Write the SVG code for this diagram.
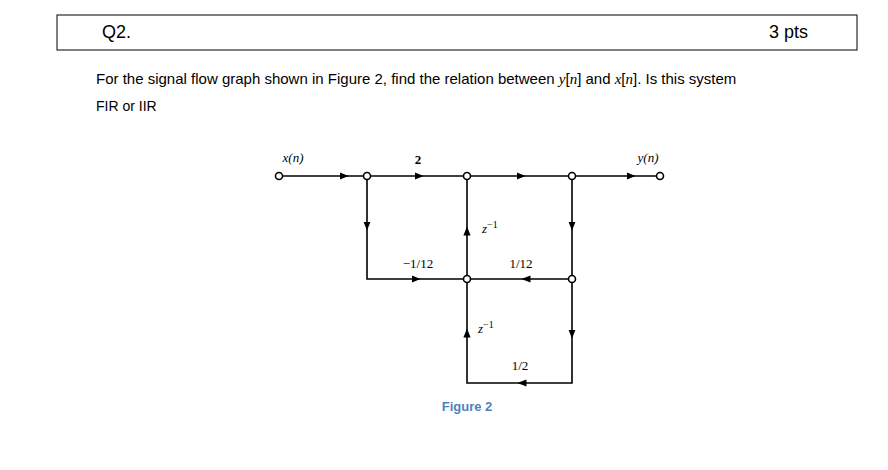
<svg xmlns="http://www.w3.org/2000/svg" width="888" height="470" viewBox="0 0 888 470">
<style>
.t{font-family:"Liberation Sans",Arial,sans-serif;font-size:15px;fill:#000}
.m{font-family:"Liberation Serif","Times New Roman",serif;font-size:13px;fill:#000}
.l{stroke:#000;stroke-width:1.6;fill:none}
.n{fill:#fff;stroke:#000;stroke-width:1.6}
</style>
<defs>
<marker id="a" viewBox="0 0 10 10" refX="5" refY="5" markerWidth="9" markerHeight="9" markerUnits="userSpaceOnUse" orient="auto"><path d="M0,1 L10,5 L0,9 Z" fill="#000"/></marker>
</defs>
<rect width="888" height="470" fill="#fff"/>
<rect x="57" y="15" width="800" height="35" fill="none" stroke="#000" stroke-width="1"/>
<text class="t" x="102" y="38" style="font-size:18px">Q2.</text>
<text class="t" x="808" y="38" text-anchor="end" style="font-size:18px">3 pts</text>
<text class="t" x="96" y="84">For the signal flow graph shown in Figure 2, find the relation between <tspan font-family="Liberation Serif" font-style="italic">y</tspan>[<tspan font-family="Liberation Serif" font-style="italic">n</tspan>] and <tspan font-family="Liberation Serif" font-style="italic">x</tspan>[<tspan font-family="Liberation Serif" font-style="italic">n</tspan>]. Is this system</text>
<text class="t" x="96" y="111" style="font-size:14px">FIR or IIR</text>
<g id="connectors">
<path class="l" d="M279,176 H660"/>
<path class="l" d="M367,176 V279 H572"/>
<path class="l" d="M467,176 V383 H572 V176"/>
<path class="l" d="M343,176 h1" marker-end="url(#a)"/>
<path class="l" d="M418,176 h1" marker-end="url(#a)"/>
<path class="l" d="M520,176 h1" marker-end="url(#a)"/>
<path class="l" d="M630,176 h1" marker-end="url(#a)"/>
<path class="l" d="M367,225 v1" marker-end="url(#a)"/>
<path class="l" d="M467,232 v-1" marker-end="url(#a)"/>
<path class="l" d="M572,225 v1" marker-end="url(#a)"/>
<path class="l" d="M415,279 h1" marker-end="url(#a)"/>
<path class="l" d="M527,279 h-1" marker-end="url(#a)"/>
<path class="l" d="M467,334 v-1" marker-end="url(#a)"/>
<path class="l" d="M572,333 v1" marker-end="url(#a)"/>
<path class="l" d="M523,383 h-1" marker-end="url(#a)"/>
</g>
<g id="nodes">
<circle class="n" cx="279" cy="176" r="3.5"/>
<circle class="n" cx="367" cy="176" r="3.5"/>
<circle class="n" cx="467" cy="176" r="3.5"/>
<circle class="n" cx="572" cy="176" r="3.5"/>
<circle class="n" cx="660" cy="176" r="3.5"/>
<circle class="n" cx="467" cy="279" r="3.5"/>
<circle class="n" cx="572" cy="279" r="3.5"/>
</g>
<g id="labels">
<text class="m" x="293" y="162" text-anchor="middle" font-style="italic">x(n)</text>
<text class="m" x="418" y="164" text-anchor="middle" font-weight="bold">2</text>
<text class="m" x="648" y="162" text-anchor="middle" font-style="italic">y(n)</text>
<text class="m" x="482" y="233" font-style="italic">z<tspan font-style="normal" font-size="10" dy="-5">−1</tspan></text>
<text class="m" x="418" y="268" text-anchor="middle">−1/12</text>
<text class="m" x="521" y="268" text-anchor="middle">1/12</text>
<text class="m" x="478" y="333" font-style="italic">z<tspan font-style="normal" font-size="10" dy="-5">−1</tspan></text>
<text class="m" x="520" y="370" text-anchor="middle">1/2</text>
<text class="t" x="467" y="411" text-anchor="middle" style="font-size:13px;font-weight:bold;fill:#4F81BD">Figure 2</text>
</g>
</svg>
